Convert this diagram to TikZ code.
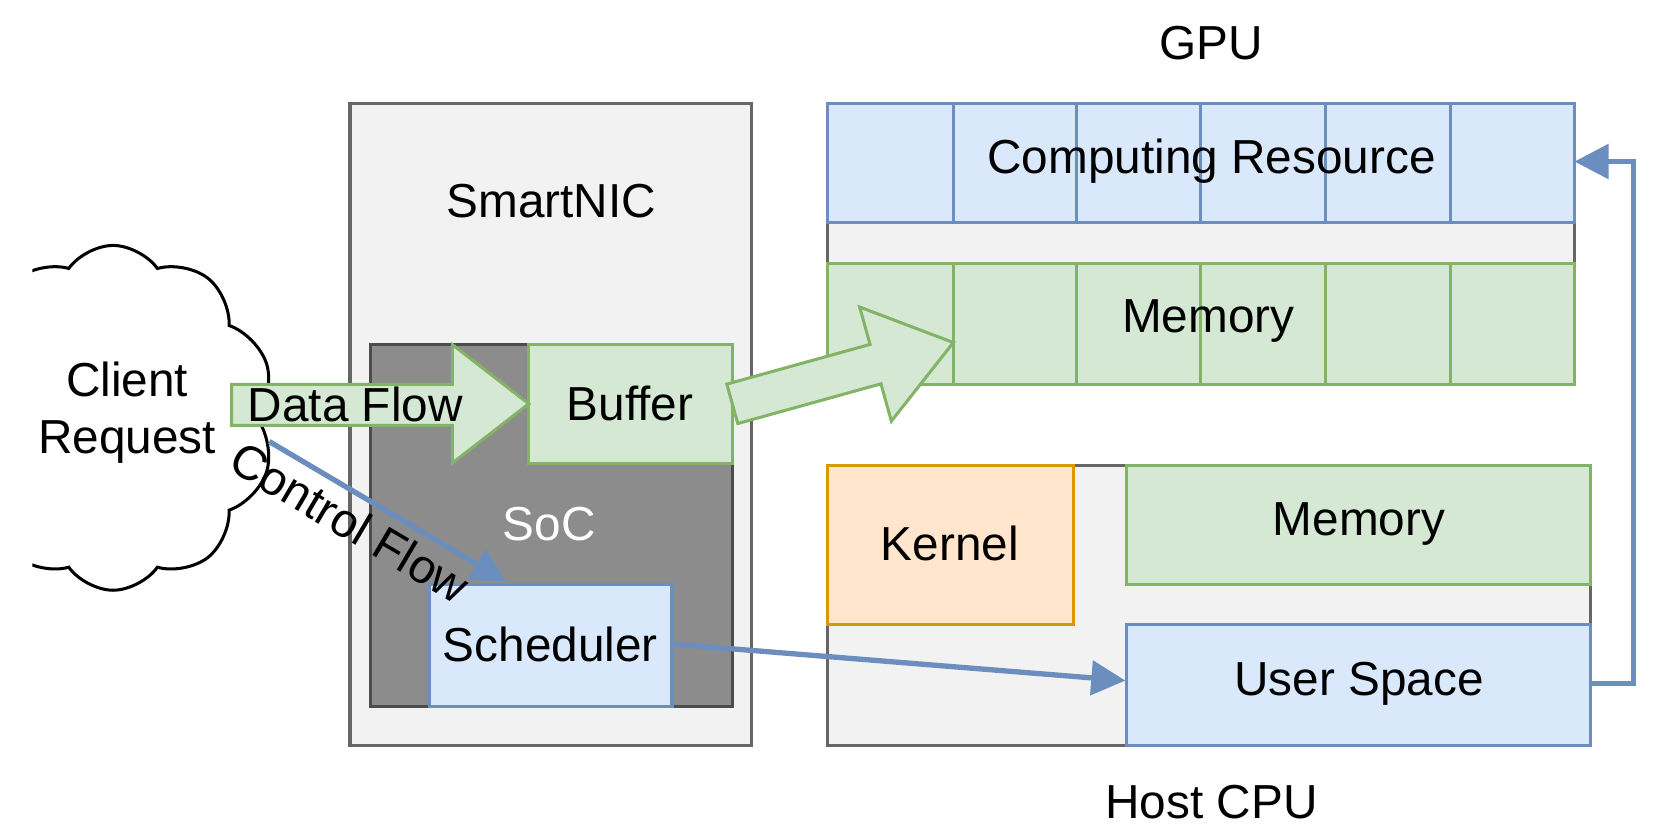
\documentclass[tikz,border=0pt]{standalone}
\usepackage{fontspec}
\setmainfont{Liberation Sans}
\usetikzlibrary{shapes.symbols,arrows.meta}

\definecolor{boxgray}{HTML}{F2F2F2}
\definecolor{socgray}{HTML}{8C8C8C}
\definecolor{greenfill}{HTML}{D5E8D4}
\definecolor{greenline}{HTML}{82B366}
\definecolor{bluefill}{HTML}{DAE8FC}
\definecolor{blueline}{HTML}{6C8EBF}
\definecolor{orangefill}{HTML}{FFE6CC}
\definecolor{orangeline}{HTML}{D79B00}

\tikzset{
    lbl/.style = {font=\fontsize{12.6}{15}\selectfont, align=center},
    grn/.style = {draw=greenline, fill=greenfill, line width=0.8pt},
    blu/.style = {draw=blueline, fill=bluefill, line width=0.8pt},
    flow/.style = {draw=blueline, line width=1.4pt, -{Triangle[length=9pt,width=9pt]}}
}

\begin{document}
\begin{tikzpicture}[x=0.01cm, y=-0.01cm]
        \useasboundingbox (0,0) rectangle (1560,777);

        % client cloud, cut at the left
        \begin{scope}
            \clip (30,200) rectangle (300,600);
            \node[cloud, cloud puffs=10, cloud puff arc=110, draw, line width=0.8pt, fill=white,
                minimum width=3.0cm, minimum height=3.2cm, inner sep=0pt]
                (cloud) at (105,388) {};
        \end{scope}
        \node[lbl] (client) at (118,383) {Client\\Request};

        % SmartNIC
        \filldraw[draw=black!60, fill=boxgray, line width=0.8pt] (325,96) rectangle (698,692);
        \node[lbl] (nic) at (512,187) {SmartNIC};
        \filldraw[draw=black!70, fill=socgray, line width=0.8pt] (344,320) rectangle (680,656);
        \node[lbl, text=white] (soc) at (510,487) {SoC};
        \filldraw[grn] (491,320) rectangle (680,430);
        \node[lbl] (buffer) at (585,375) {Buffer};
        \filldraw[blu] (399,543) rectangle (624,656);
        \node[lbl] (sched) at (511,598) {Scheduler};

        % GPU
        \node[lbl] (gpu) at (1125,40) {GPU};
        \filldraw[draw=black!60, fill=boxgray, line width=0.8pt] (768,96) rectangle (1462,357);
        \foreach \x/\w in {768/885, 885/1000, 1000/1115, 1115/1231, 1231/1347, 1347/1462} {
            \filldraw[blu] (\x,96) rectangle (\w,207);
            \filldraw[grn] (\x,245) rectangle (\w,357);
        }
        \node[lbl] (comp) at (1125,150) {Computing Resource};
        \node[lbl] (gmem) at (1122,298) {Memory};

        % host CPU
        \filldraw[draw=black!60, fill=boxgray, line width=0.8pt] (768,432) rectangle (1477,692);
        \filldraw[draw=orangeline, fill=orangefill, line width=0.8pt] (768,432) rectangle (997,580);
        \node[lbl] (kernel) at (882,505) {Kernel};
        \filldraw[grn] (1046,432) rectangle (1477,543);
        \node[lbl] (hmem) at (1262,487) {Memory};
        \filldraw[blu] (1046,580) rectangle (1477,692);
        \node[lbl] (user) at (1262,635) {User Space};
        \node[lbl] (cpu) at (1125,745) {Host CPU};

        % data flow
        \filldraw[grn] (215,357) -- (420,357) -- (420,320) -- (491,375) -- (420,430)
            -- (420,395) -- (215,395) -- cycle;
        \node[lbl] (data) at (330,376) {Data Flow};
        \begin{scope}[shift={(680,375)}, rotate=15.5]
            \filldraw[grn] (0,-19) -- (138,-19) -- (138,-55) -- (213,0) -- (138,55)
                -- (138,19) -- (0,19) -- cycle;
        \end{scope}

        % control flow
        \coordinate (cstart) at (250,410);
        \coordinate (cend) at (470,540);
        \draw[flow] (cstart) -- (cend);
        \node[lbl, rotate=-30.6] (ctrl) at (325,485) {Control Flow};
        \coordinate (sout) at (624,598);
        \draw[flow] (sout) -- (1045,632);
        \coordinate (ret) at (1517,635);
        \draw[flow] (1477,635) -- (ret) |- (1462,150);
    \end{tikzpicture}
\end{document}
